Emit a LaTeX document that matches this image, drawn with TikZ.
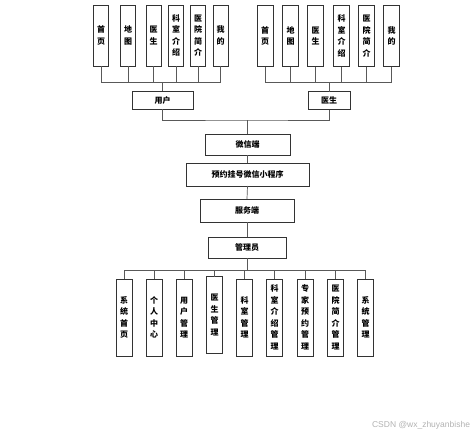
\documentclass[tikz,border=0pt]{standalone}
\usepackage{fontspec}
\newfontfamily\cjk{Noto Sans CJK SC}
\setsansfont{Liberation Sans}
\begin{document}
\begin{tikzpicture}[x=1pt,y=-1pt,
  every node/.style={inner sep=0pt,outer sep=0pt},
  vbox/.style={draw=black!80,line width=0.7pt,fill=white,minimum width=15pt,minimum height=61pt,align=center,font=\cjk\fontsize{8}{11.5}\selectfont\bfseries},
  bvbox/.style={vbox,minimum width=16pt,minimum height=77pt},
  hbox/.style={draw=black!80,line width=0.7pt,fill=white,minimum height=19pt,font=\cjk\fontsize{8}{9}\selectfont\bfseries},
  conn/.style={draw=black!65,line width=0.7pt}]
\useasboundingbox (0,0) rectangle (474,434);
% top left group
\node[vbox] (a1) at (101,35.5) {首\\页};
\node[vbox] (a2) at (128,35.5) {地\\图};
\node[vbox] (a3) at (153.5,35.5) {医\\生};
\node[vbox] (a4) at (176,35.5) {科\\室\\介\\绍};
\node[vbox] (a5) at (198,35.5) {医\\院\\简\\介};
\node[vbox] (a6) at (220.5,35.5) {我\\的};
% top right group
\node[vbox,minimum width=16pt] (b1) at (265,36) {首\\页};
\node[vbox,minimum width=16pt] (b2) at (290.5,36) {地\\图};
\node[vbox,minimum width=16pt] (b3) at (315.5,36) {医\\生};
\node[vbox,minimum width=16pt] (b4) at (341.5,36) {科\\室\\介\\绍};
\node[vbox,minimum width=16pt] (b5) at (366.5,36) {医\\院\\简\\介};
\node[vbox,minimum width=16pt] (b6) at (391.5,36) {我\\的};
% user / doctor
\node[hbox,minimum width=61pt,minimum height=18pt] (u) at (162.5,100) {用户};
\node[hbox,minimum width=42pt,minimum height=18pt] (d) at (329,100.5) {医生};
% central chain
\node[hbox,minimum width=85pt,minimum height=21pt] (wx) at (247.5,144.5) {微信端};
\node[hbox,minimum width=123pt,minimum height=23pt] (yy) at (247.5,174.5) {预约挂号微信小程序};
\node[hbox,minimum width=94pt,minimum height=23pt] (fw) at (247,210.5) {服务端};
\node[hbox,minimum width=78pt,minimum height=21pt] (gl) at (247,247.5) {管理员};
% bottom group
\node[bvbox] (c1) at (124,317.5) {系\\统\\首\\页};
\node[bvbox] (c2) at (154,317.5) {个\\人\\中\\心};
\node[bvbox] (c3) at (184,317.5) {用\\户\\管\\理};
\node[bvbox] (c4) at (214.5,315) {医\\生\\管\\理};
\node[bvbox] (c5) at (244.5,317.5) {科\\室\\管\\理};
\node[bvbox] (c6) at (274.5,317.5) {科\\室\\介\\绍\\管\\理};
\node[bvbox] (c7) at (305,317.5) {专\\家\\预\\约\\管\\理};
\node[bvbox] (c8) at (335.5,317.5) {医\\院\\简\\介\\管\\理};
\node[bvbox] (c9) at (365.5,317.5) {系\\统\\管\\理};
% coordinates
\coordinate (ta) at (0,82);
\coordinate (J) at (247.5,120);
\coordinate (bb) at (0,270);
% top left connectors
\foreach \n in {a1,a2,a3,a4,a5,a6} \draw[conn] (\n.south) -- (\n.south |- ta);
\draw[conn] (a1.south |- ta) -- (a6.south |- ta);
\draw[conn] (u.north) -- (u.north |- ta);
% top right connectors
\foreach \n in {b1,b2,b3,b4,b5,b6} \draw[conn] (\n.south) -- (\n.south |- ta);
\draw[conn] (b1.south |- ta) -- (b6.south |- ta);
\draw[conn] (d.north) -- (d.north |- ta);
% merge
\draw[conn] (u.south) |- (J) -| (d.south);
\draw[conn] (J) -- (wx.north);
\draw[conn] (wx.south) -- (yy.north);
\draw[conn] (yy.south) -- (fw.north);
\draw[conn] (fw.south) -- (gl.north);
\draw[conn] (gl.south) -- (gl.south |- bb);
% bottom connectors
\draw[conn] (c1.north |- bb) -- (c9.north |- bb);
\foreach \n in {c1,c2,c3,c4,c5,c6,c7,c8,c9} \draw[conn] (\n.north) -- (\n.north |- bb);
% watermark
\node[anchor=east,text=black!30,font=\sffamily\fontsize{8.5}{9}\selectfont] (wm) at (470,425) {CSDN @wx\_zhuyanbishe};
\end{tikzpicture}
\end{document}
